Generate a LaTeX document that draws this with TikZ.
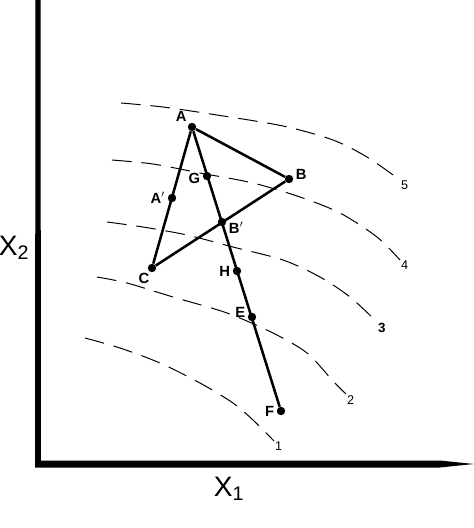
\documentclass[tikz,border=0pt]{standalone}
\usepackage{fontspec}
\setmainfont{Liberation Sans}
\usepackage{tikz}
\begin{document}
\begin{tikzpicture}[x=0.025cm,y=-0.025cm]
  \tikzset{pt/.style={circle,fill,inner sep=0pt,minimum size=0.21cm},
    lbl/.style={font=\fontsize{10.5}{12}\selectfont\bfseries,inner sep=1.5pt},
    num/.style={font=\fontsize{9}{10}\selectfont,inner sep=0.5pt,anchor=north west},
    level/.style={line width=0.7pt,dash pattern=on 14pt off 7pt},
    edge/.style={line width=1.8pt}}
  \useasboundingbox (0,0) rectangle (474,528);
  % axes
  \fill (35.5,0) -- (40.5,0) -- (41,460.5) -- (440,460.5) -- (474,464) -- (440,467.5) -- (35,467.5) -- cycle;
  \node[font=\fontsize{20}{24}\selectfont] (x2) at (14,248) {X\textsubscript{2}};
  \node[font=\fontsize{20}{24}\selectfont] (x1) at (229,489) {X\textsubscript{1}};

  % indifference levels
  \draw[level] plot[smooth] coordinates {(121,103) (163,107) (217,115) (283,126) (333,140) (367,157) (400,180)}
    node[num] (n5) {5};
  \draw[level] plot[smooth] coordinates {(112,160) (153,164) (200,173) (253,183) (300,197) (340,213) (377,237) (400,260)}
    node[num] (n4) {4};
  \draw[level] plot[smooth] coordinates {(107,222) (143,227) (187,235) (233,247) (283,260) (320,277) (350,297) (377,322)}
    node[num,font=\fontsize{9.5}{10}\selectfont\bfseries] (n3) {3};
  \draw[level] plot[smooth] coordinates {(97,277) (127,283) (173,297) (227,313) (273,333) (307,353) (333,381) (346,394)}
    node[num] (n2) {2};
  \draw[level] plot[smooth] coordinates {(85,338) (120,348) (160,363) (200,383) (233,403) (253,420) (274,441)}
    node[num] (n1) {1};

  % simplex points
  \node[pt,label={[lbl]above left:A}] (A) at (192,127) {};
  \node[pt,label={[lbl,yshift=3pt]right:B}] (B) at (289,179) {};
  \node[pt,label={[lbl,xshift=2pt]below left:C}] (C) at (152,268) {};
  \node[pt,label={[lbl]left:A$'$}] (A1) at (172,198) {};
  \node[pt,label={[lbl,yshift=-2pt]left:G}] (G) at (207,176) {};
  \node[pt,label={[lbl,yshift=-4pt]right:B$'$}] (B1) at (222,222) {};
  \node[pt,label={[lbl]left:H}] (H) at (237,271) {};
  \node[pt,label={[lbl,yshift=3pt]left:E}] (E) at (252,317) {};
  \node[pt,label={[lbl]left:F}] (F) at (281,411) {};

  \draw[edge] (A) -- (B) -- (C) -- (A);
  \draw[edge] (A) -- (F);
\end{tikzpicture}
\end{document}
